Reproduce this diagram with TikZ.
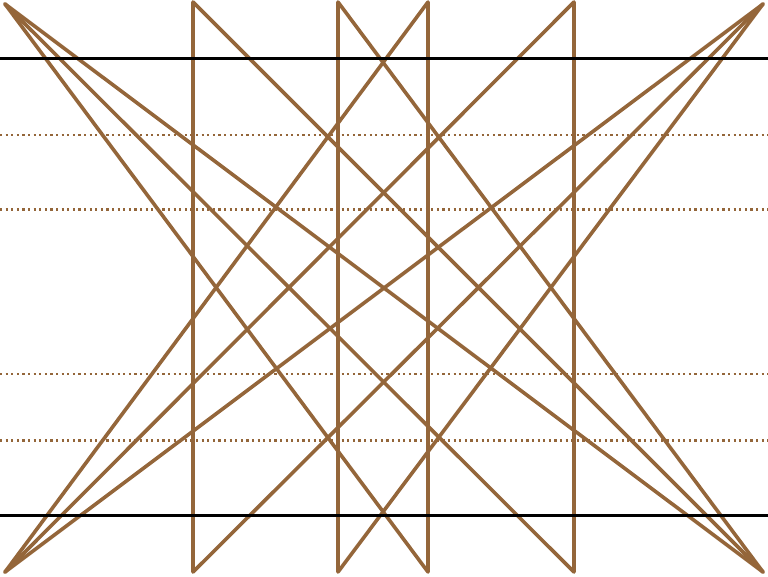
\documentclass[tikz,border=0pt]{standalone}
\usepackage{tikz}
\definecolor{rope}{RGB}{148,102,58}
\tikzset{
  rope/.style={draw=rope, line width=3.6pt, line cap=round, line join=round},
  guide/.style={draw=black, line width=3.2pt},
  dotline/.style={draw=rope, line width=2.6pt, dash pattern=on 2.2pt off 3.4pt}
}
\begin{document}
\begin{tikzpicture}[x=1pt,y=-1pt]
\useasboundingbox (0,0) rectangle (768,576);
% corners
\coordinate (TL) at (5,4);
\coordinate (TR) at (763,4);
\coordinate (BL) at (5,572);
\coordinate (BR) at (763,572);
% verticals tops/bottoms
\coordinate (A1) at (193,2);   \coordinate (B1) at (193,572);
\coordinate (A2) at (338,2);   \coordinate (B2) at (338,572);
\coordinate (A3) at (428,2);   \coordinate (B3) at (428,572);
\coordinate (A4) at (574,2);   \coordinate (B4) at (574,572);
% horizontal guide ends
\coordinate (h1l) at (0,58.5);  \coordinate (h1r) at (768,58.5);
\coordinate (h2l) at (0,515.5); \coordinate (h2r) at (768,515.5);
\coordinate (d1l) at (0,135);  \coordinate (d1r) at (768,135);
\coordinate (d2l) at (0,209.5);  \coordinate (d2r) at (768,209.5);
\coordinate (d3l) at (0,374);  \coordinate (d3r) at (768,374);
\coordinate (d4l) at (0,440.5);  \coordinate (d4r) at (768,440.5);

% rope lines
\draw[rope] (TL) -- (BR);
\draw[rope] (BL) -- (TR);
\draw[rope] (BR) -- (A1) -- (B1) -- (TR);
\draw[rope] (BR) -- (A2) -- (B2) -- (TR);
\draw[rope] (BL) -- (A3) -- (B3) -- (TL);
\draw[rope] (BL) -- (A4) -- (B4) -- (TL);

% dotted guides
\foreach \n in {1,2,3,4} {
  \draw[dotline] (d\n l) -- (d\n r);
}
% black guides
\draw[guide] (h1l) -- (h1r);
\draw[guide] (h2l) -- (h2r);
\end{tikzpicture}
\end{document}
